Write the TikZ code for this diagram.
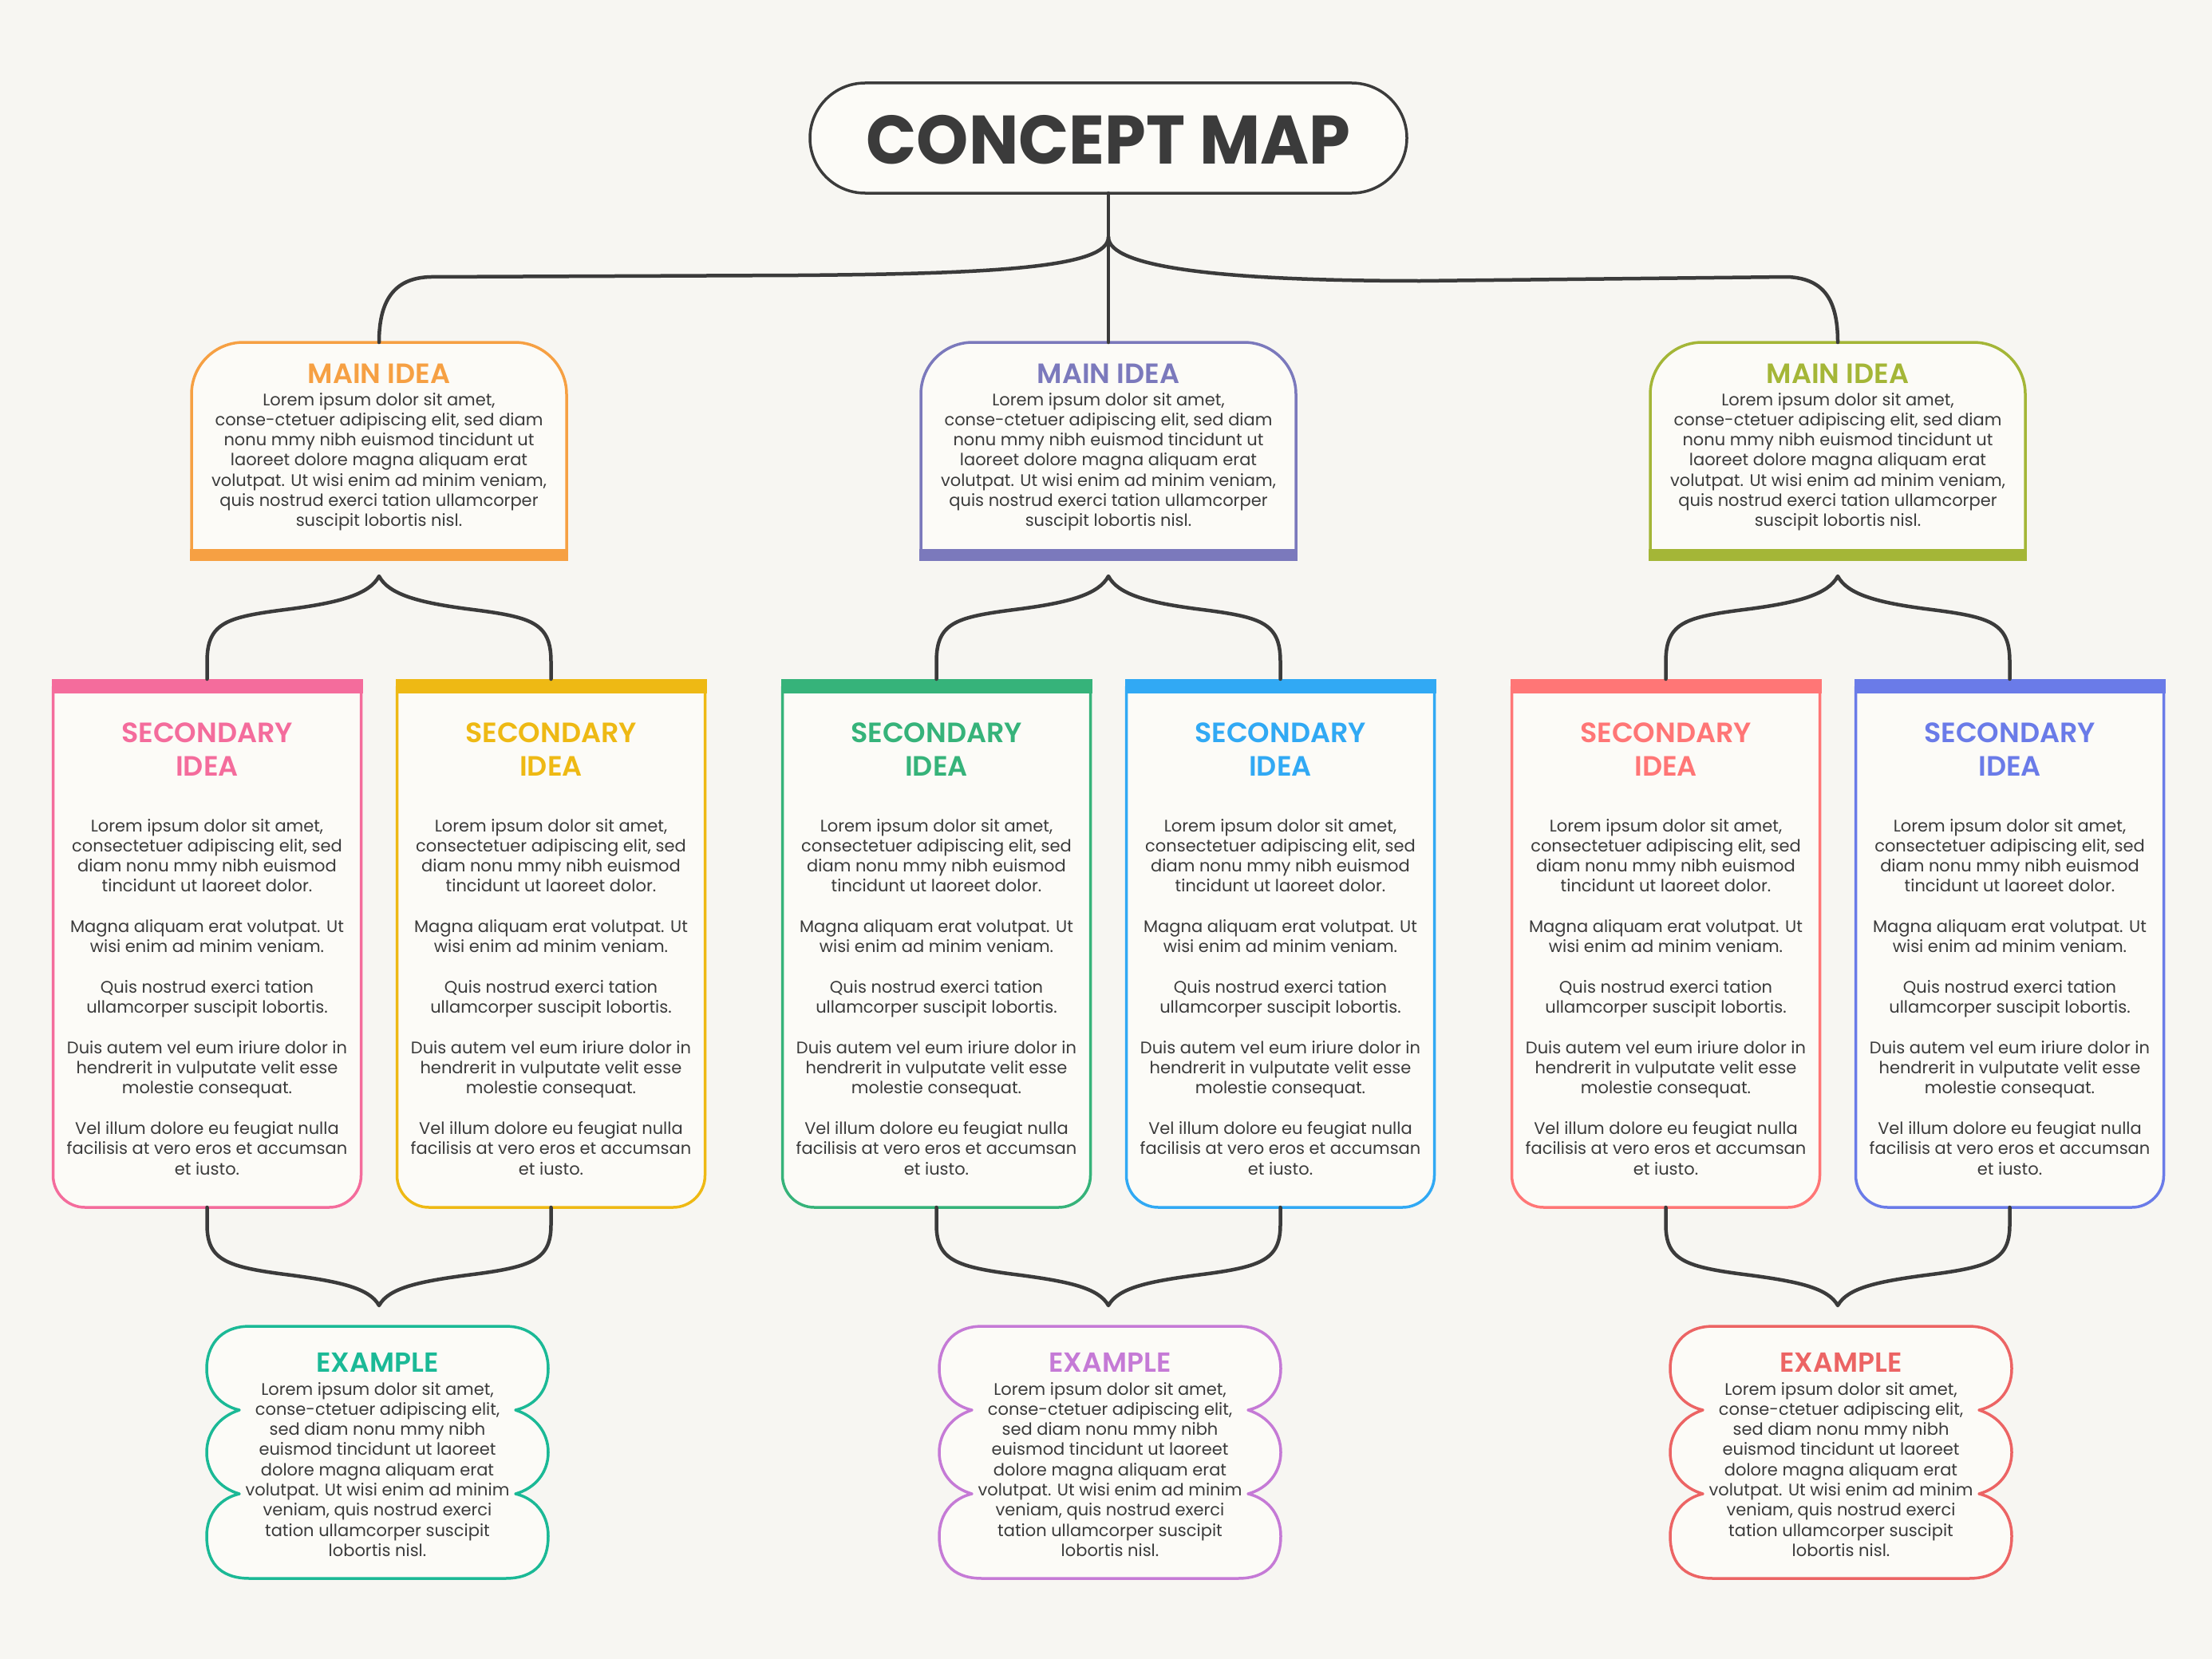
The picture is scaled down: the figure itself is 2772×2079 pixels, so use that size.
\documentclass[tikz,border=0pt]{standalone}
\usepackage{fontspec}
\setmainfont{Poppins}
\newfontfamily\semib{Poppins SemiBold}
\usepackage{graphicx}
\usetikzlibrary{calc}
\definecolor{bg}{HTML}{F7F6F2}
\definecolor{boxfill}{HTML}{FCFBF7}
\definecolor{dark}{HTML}{3B3B3B}
\definecolor{cOrange}{HTML}{F6A043}
\definecolor{cPurple}{HTML}{7B79BC}
\definecolor{cOlive}{HTML}{A4B637}
\definecolor{cPink}{HTML}{F46C9C}
\definecolor{cYellow}{HTML}{EEB914}
\definecolor{cGreen}{HTML}{36B37A}
\definecolor{cBlue}{HTML}{31A9F4}
\definecolor{cCoral}{HTML}{FF7676}
\definecolor{cIndigo}{HTML}{6A7BE8}
\definecolor{cTeal}{HTML}{1BB996}
\definecolor{cViolet}{HTML}{C57AD6}
\definecolor{cRedex}{HTML}{EC6464}

\newcommand\maintext{Lorem ipsum dolor sit amet,\\
conse-ctetuer adipiscing elit, sed diam\\
nonu mmy nibh euismod tincidunt ut\\
laoreet dolore magna aliquam erat\\
volutpat. Ut wisi enim ad minim veniam,\\
quis nostrud exerci tation ullamcorper\\
suscipit lobortis nisl.}

\newcommand\sectext{Lorem ipsum dolor sit amet,\\
consectetuer adipiscing elit, sed\\
diam nonu mmy nibh euismod\\
tincidunt ut laoreet dolor.\\[25.3pt]
Magna aliquam erat volutpat. Ut\\
wisi enim ad minim veniam.\\[25.3pt]
Quis nostrud exerci tation\\
ullamcorper suscipit lobortis.\\[25.3pt]
Duis autem vel eum iriure dolor in\\
hendrerit in vulputate velit esse\\
molestie consequat.\\[25.3pt]
Vel illum dolore eu feugiat nulla\\
facilisis at vero eros et accumsan\\
et iusto.}

\newcommand\extext{Lorem ipsum dolor sit amet,\\
conse-ctetuer adipiscing elit,\\
sed diam nonu mmy nibh\\
euismod tincidunt ut laoreet\\
dolore magna aliquam erat\\
volutpat. Ut wisi enim ad minim\\
veniam, quis nostrud exerci\\
tation ullamcorper suscipit\\
lobortis nisl.}

\tikzset{
  conn/.style={draw=dark, line width=4.5, line cap=round, line join=round},
  heading/.style={anchor=base, inner sep=0, font=\semib\fontsize{35}{42}\selectfont},
  exheading/.style={anchor=base, inner sep=0, font=\semib\fontsize{34.5}{40}\selectfont},
  bodytext/.style={anchor=base, inner sep=0, text=dark, font=\fontsize{21}{25.3}\selectfont},
  boxline/.style={line width=3.5, fill=boxfill, line join=round},
}

% main idea box: #1 centre x, #2 colour, #3 name
\newcommand\mainbox[3]{%
  \path[boxline, draw=#2] ({#1-235},690) -- ({#1-235},494)
    .. controls ({#1-235},458) and ({#1-206},429) .. ({#1-170},429)
    -- ({#1+170},429)
    .. controls ({#1+206},429) and ({#1+235},458) .. ({#1+235},494)
    -- ({#1+235},690);
  \fill[#2] ({#1-237},688) rectangle ({#1+237},703);
  \node[heading, text=#2] (#3h) at (#1,480) {MAIN IDEA};
  \node[bodytext] (#3b) at (#1,508) {\parbox[t]{600pt}{\centering\maintext}};
  \coordinate (#3t) at (#1,429);
  \coordinate (#3d) at (#1,703);
}

% secondary box: #1 centre x, #2 colour, #3 name
\newcommand\secbox[3]{%
  \path[boxline, draw=#2] ({#1-193},860) -- ({#1-193},1473)
    .. controls ({#1-193},1495) and ({#1-175},1513) .. ({#1-153},1513)
    -- ({#1+153},1513)
    .. controls ({#1+175},1513) and ({#1+193},1495) .. ({#1+193},1473)
    -- ({#1+193},860);
  \fill[#2] ({#1-195},851) rectangle ({#1+195},869);
  \node[heading, text=#2] (#3h) at (#1,930) {\parbox[t]{600pt}{\centering SECONDARY\\IDEA}};
  \node[bodytext] (#3b) at (#1,1042) {\parbox[t]{600pt}{\centering\sectext}};
  \coordinate (#3t) at (#1,851);
  \coordinate (#3d) at (#1,1513);
}

% example box: #1 centre x, #2 colour, #3 name
\newcommand\exbox[3]{%
  \path[boxline, draw=#2] ({#1-160},1662) -- ({#1+160},1662)
    .. controls ({#1+200},1662) and ({#1+214},1690) .. ({#1+214},1715)
    .. controls ({#1+214},1745) and ({#1+195},1762) .. ({#1+173},1767)
    .. controls ({#1+198},1775) and ({#1+214},1795) .. ({#1+214},1820)
    .. controls ({#1+214},1845) and ({#1+198},1865) .. ({#1+173},1872)
    .. controls ({#1+195},1877) and ({#1+214},1895) .. ({#1+214},1925)
    .. controls ({#1+214},1955) and ({#1+200},1978) .. ({#1+160},1978)
    -- ({#1-160},1978)
    .. controls ({#1-200},1978) and ({#1-214},1955) .. ({#1-214},1925)
    .. controls ({#1-214},1895) and ({#1-195},1877) .. ({#1-173},1872)
    .. controls ({#1-198},1865) and ({#1-214},1845) .. ({#1-214},1820)
    .. controls ({#1-214},1795) and ({#1-198},1775) .. ({#1-173},1767)
    .. controls ({#1-195},1762) and ({#1-214},1745) .. ({#1-214},1715)
    .. controls ({#1-214},1690) and ({#1-200},1662) .. ({#1-160},1662) -- cycle;
  \node[exheading, text=#2] (#3h) at (#1,1719) {EXAMPLE};
  \node[bodytext] (#3b) at (#1,1748) {\parbox[t]{600pt}{\centering\extext}};
  \coordinate (#3t) at (#1,1662);
}

% braces: #1 column centre, #2 left box name, #3 right box name, #4 tag
\newcommand\braces[4]{%
  \coordinate (tipT#4) at (#1,722);
  \coordinate (tipB#4) at (#1,1636);
  \draw[conn] (#2t) -- ++(0,-22)
    .. controls +(0,-50) and +(-80,10) .. ($(tipT#4)+(-110,41)$)
    .. controls +(60,-8) and +(-12,23) .. (tipT#4)
    .. controls +(12,23) and +(-60,-8) .. ($(tipT#4)+(110,41)$)
    .. controls +(80,10) and +(0,-50) .. ($(#3t)+(0,-22)$) -- (#3t);
  \draw[conn] (#2d) -- ++(0,22)
    .. controls +(0,45) and +(-80,-10) .. ($(tipB#4)+(-110,-38)$)
    .. controls +(60,8) and +(-12,-22) .. (tipB#4)
    .. controls +(12,-22) and +(-60,8) .. ($(tipB#4)+(110,-38)$)
    .. controls +(80,-10) and +(0,45) .. ($(#3d)+(0,22)$) -- (#3d);
}

\begin{document}
\begin{tikzpicture}[x=1pt,y=-1pt]
\useasboundingbox (0,0) rectangle (2772,2079);
\fill[bg] (0,0) rectangle (2772,2079);

% title
\draw[boxline, draw=dark, rounded corners=69] (1015,104) rectangle (1763,242);
\node[anchor=base, inner sep=0, text=dark, font=\fontsize{86}{90}\selectfont\bfseries] (title) at (1389,205) {\scalebox{0.965}[1]{CONCEPT MAP}};
\coordinate (tb) at (1389,242);
\coordinate (split) at (1389,297);
\coordinate (kL1) at (1000,345);
\coordinate (kL2) at (540,347);
\coordinate (kR1) at (1780,352);
\coordinate (kR2) at (2240,347);

% boxes
\mainbox{475}{cOrange}{m1}
\mainbox{1389}{cPurple}{m2}
\mainbox{2303}{cOlive}{m3}

\secbox{259.5}{cPink}{s1}
\secbox{690.5}{cYellow}{s2}
\secbox{1173.5}{cGreen}{s3}
\secbox{1604.5}{cBlue}{s4}
\secbox{2087.5}{cCoral}{s5}
\secbox{2518.5}{cIndigo}{s6}

\exbox{473}{cTeal}{e1}
\exbox{1391}{cViolet}{e2}
\exbox{2307}{cRedex}{e3}

% connectors from title
\draw[conn] (tb) -- (m2t);
\draw[conn] (split) .. controls +(0,38) and +(250,-2) .. (kL1) -- (kL2)
  .. controls +(-48,1) and +(0,-50) .. (m1t);
\draw[conn] (split) .. controls +(0,38) and +(-250,0) .. (kR1) -- (kR2)
  .. controls +(48,2) and +(0,-50) .. (m3t);

\braces{475}{s1}{s2}{a}
\braces{1389}{s3}{s4}{b}
\braces{2303}{s5}{s6}{c}
\end{tikzpicture}
\end{document}
